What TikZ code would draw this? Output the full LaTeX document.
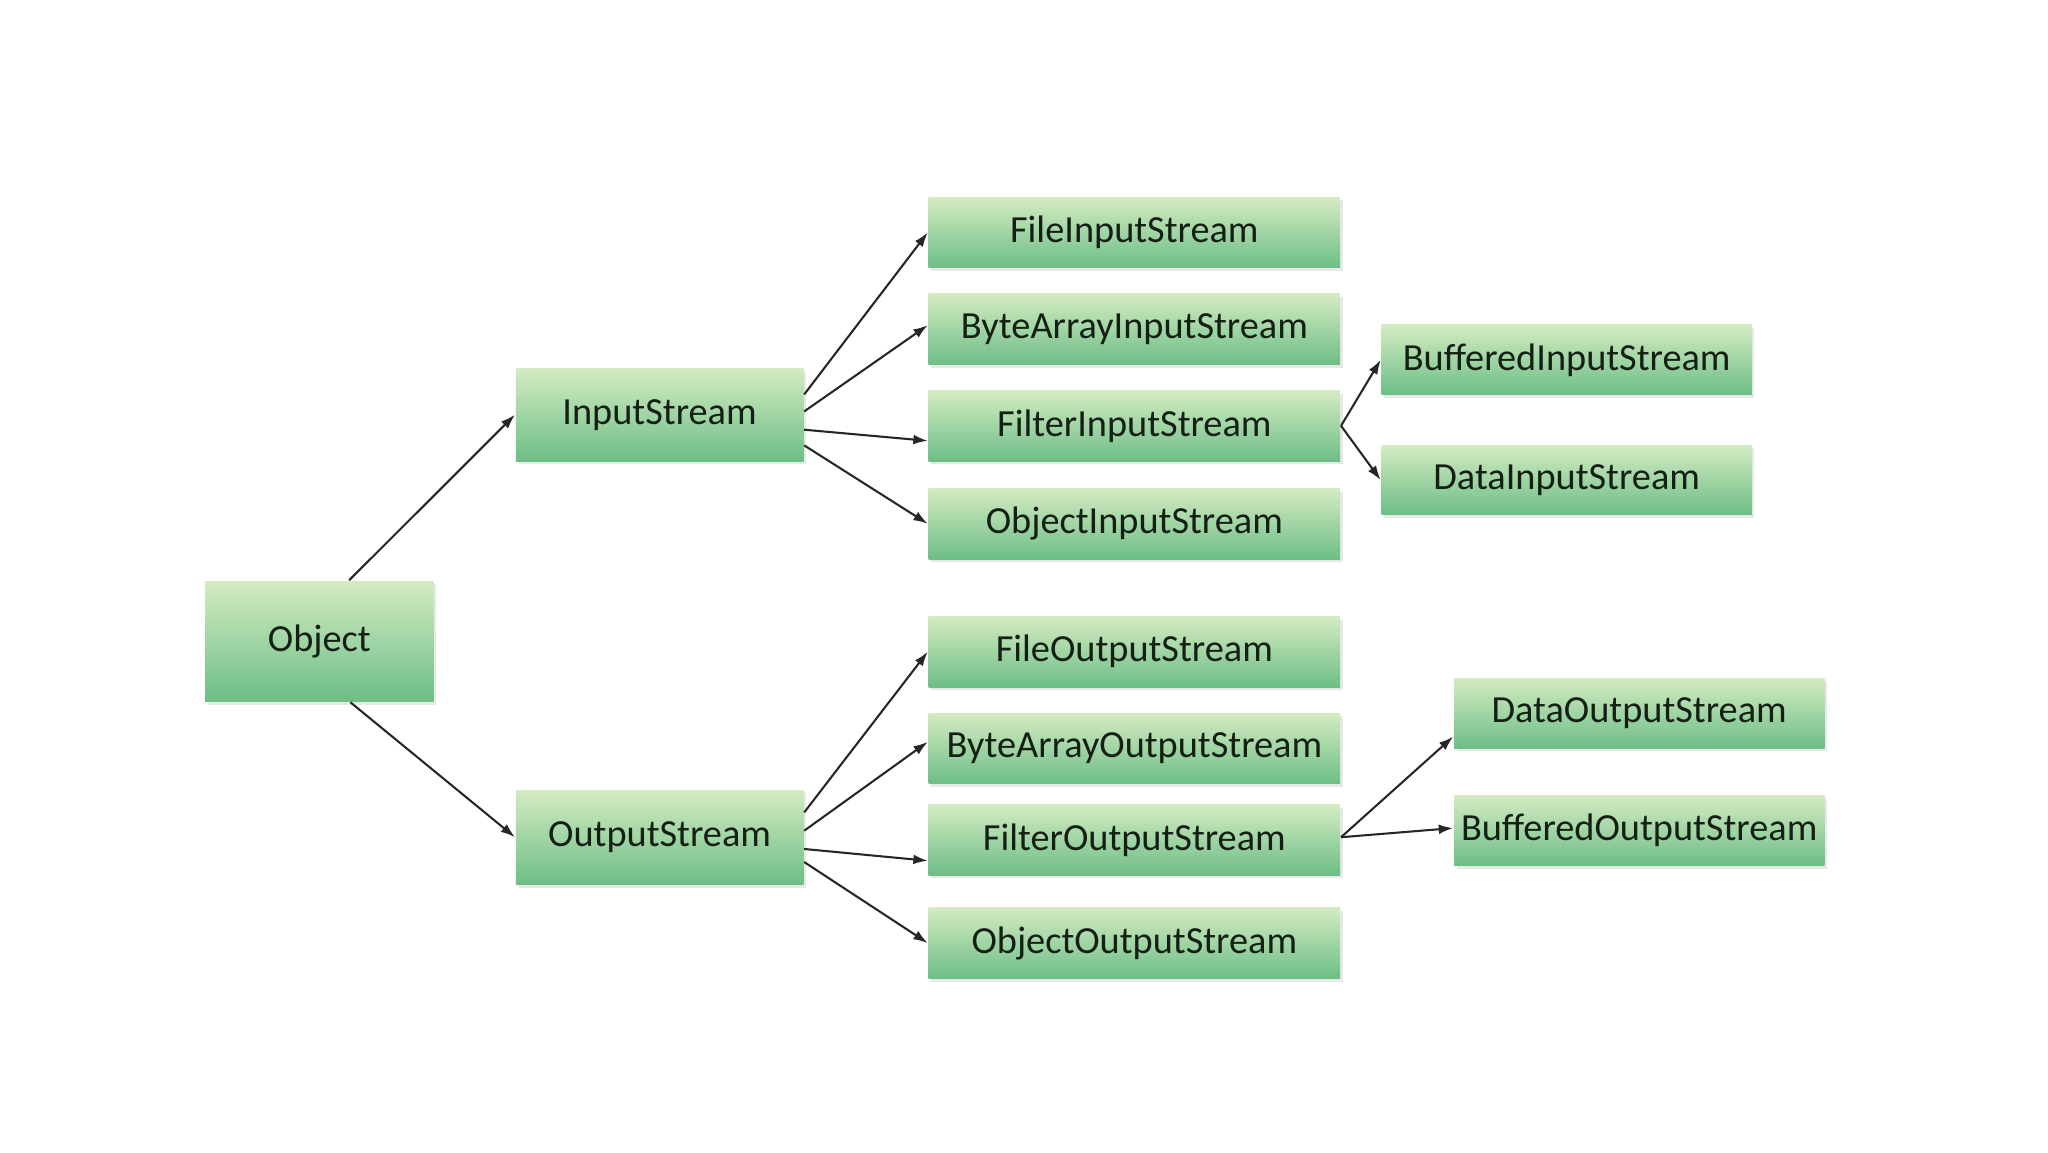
\documentclass[tikz,border=0pt]{standalone}
\usepackage{fontspec}
\setmainfont{Carlito}
\usetikzlibrary{arrows.meta,shadows}
\definecolor{boxtop}{HTML}{D4EBC2}
\definecolor{boxbot}{HTML}{6DBE86}
\definecolor{txtcol}{HTML}{142014}
\begin{document}
\begin{tikzpicture}[thick, inner sep=0pt, font=\fontsize{16.7}{20}\selectfont,
    cls/.style={rectangle, top color=boxtop, bottom color=boxbot, text=txtcol,
      drop shadow={opacity=0.18, shadow xshift=0.04, shadow yshift=-0.05}},
    mid/.style={cls, minimum width=6.3cm, minimum height=1.08cm},
    sub/.style={cls, minimum width=5.67cm, minimum height=1.07cm},
    inh/.style={-{Latex[length=2.2mm,width=1.5mm]}, line width=0.9pt, color=black!85}]
    \useasboundingbox[fill=white] (0,0) rectangle (31.36,-17.64);
    \node[cls, minimum width=3.5cm, minimum height=1.84cm] (obj) at (4.89,-9.82) {Object};
    \node[cls, minimum width=4.4cm, minimum height=1.42cm] (is) at (10.10,-6.35) {InputStream};
    \node[cls, minimum width=4.4cm, minimum height=1.44cm] (os) at (10.10,-12.82) {OutputStream};
    \node[mid] (fis) at (17.37,-3.56) {FileInputStream};
    \node[mid] (bais) at (17.37,-5.04) {ByteArrayInputStream};
    \node[mid] (filis) at (17.37,-6.52) {FilterInputStream};
    \node[mid] (ois) at (17.37,-8.02) {ObjectInputStream};
    \node[mid] (fos) at (17.37,-9.98) {FileOutputStream};
    \node[mid] (baos) at (17.37,-11.46) {ByteArrayOutputStream};
    \node[mid] (filos) at (17.37,-12.86) {FilterOutputStream};
    \node[mid] (oos) at (17.37,-14.44) {ObjectOutputStream};
    \node[sub] (bis) at (23.99,-5.51) {BufferedInputStream};
    \node[sub] (dis) at (23.99,-7.35) {DataInputStream};
    \node[sub] (dos) at (25.10,-10.92) {DataOutputStream};
    \node[sub] (bos) at (25.10,-12.72) {BufferedOutputStream};
    \path[inh]%
      (obj.64) edge (is.west)
      (obj.-63) edge (os.west)
      ([yshift=3.1mm]is.east) edge (fis.west)
      ([yshift=0.5mm]is.east) edge ([yshift=0.6mm]bais.west)
      ([yshift=-2.3mm]is.east) edge ([yshift=-2.3mm]filis.west)
      ([yshift=-4.7mm]is.east) edge (ois.west)
      (filis.east) edge (bis.west)
      (filis.east) edge (dis.west)
      ([yshift=3.8mm]os.east) edge (fos.west)
      ([yshift=1mm]os.east) edge ([yshift=1mm]baos.west)
      ([yshift=-1.8mm]os.east) edge ([yshift=-3.2mm]filos.west)
      ([yshift=-3.8mm]os.east) edge (oos.west)
      ([yshift=0.4mm]filos.east) edge ([yshift=-3.6mm]dos.west)
      ([yshift=0.4mm]filos.east) edge ([yshift=0.4mm]bos.west);
\end{tikzpicture}
\end{document}
